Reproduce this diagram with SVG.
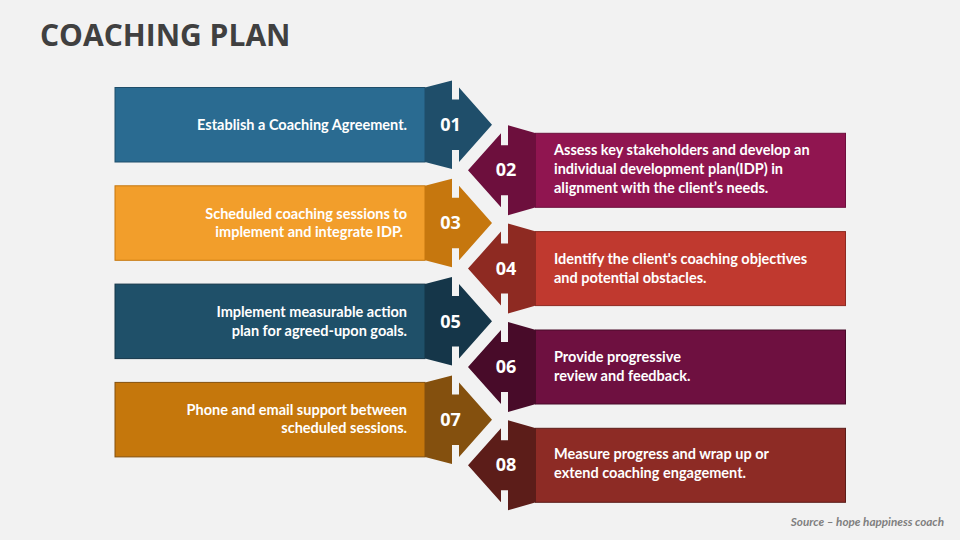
<svg xmlns="http://www.w3.org/2000/svg" width="960" height="540" viewBox="0 0 960 540">
<style>
.bg{fill:#F2F2F2}
.title{font-family:"Open Sans","Liberation Sans",sans-serif;font-weight:700;font-size:30px;fill:#404040}
.txt{font-family:Lato,"Liberation Sans",sans-serif;font-weight:700;font-size:14.5px;fill:#FFFFFF}
.l{text-anchor:end}
.num{font-family:"Open Sans","Liberation Sans",sans-serif;font-weight:700;font-size:18px;fill:#FFFFFF;text-anchor:middle}
.src{font-family:Lato,"Liberation Sans",sans-serif;font-weight:700;font-style:italic;font-size:11.7px;fill:#7F7F7F;text-anchor:end}
</style>
<rect class="bg" width="960" height="540"/>
<text class="title" x="40" y="46">COACHING PLAN</text>
<g id="connectors"/>
<g id="step01">
<rect x="115" y="87.5" width="310" height="74.5" fill="#2A6B91" stroke="#1F4E6A" stroke-width="1"/>
<polygon points="425,87.5 452,80.5 452,99.5 459,99.5 459,87.5 492,124.75 459,162 459,150 452,150 452,169 425,162" fill="#1F4E6A"/>
<text class="txt l" x="407" y="129.5">Establish a Coaching Agreement.</text>
<text class="num" x="450.5" y="131">01</text>
</g>
<g id="step02">
<rect x="535.5" y="133.3" width="310" height="74" fill="#901550" stroke="#6D0F3D" stroke-width="1"/>
<polygon points="536,133.3 508,125.3 508,145.3 501,145.3 501,133.3 468,170.3 501,207.3 501,195.3 508,195.3 508,215.3 536,207.3" fill="#6D0F3D"/>
<text class="txt" x="554" y="155">Assess key stakeholders and develop an</text>
<text class="txt" x="554" y="174.3">individual development plan(IDP) in</text>
<text class="txt" x="554" y="193.3">alignment with the client’s needs.</text>
<text class="num" x="506" y="176.3">02</text>
</g>
<g id="step03">
<rect x="115" y="185.8" width="310" height="74.5" fill="#F29E2B" stroke="#C6770E" stroke-width="1"/>
<polygon points="425,185.8 452,178.8 452,197.8 459,197.8 459,185.8 492,223.05 459,260.3 459,248.3 452,248.3 452,267.3 425,260.3" fill="#C6770E"/>
<text class="txt l" x="407" y="219">Scheduled coaching sessions to</text>
<text class="txt l" x="403" y="237.3">implement and integrate IDP.</text>
<text class="num" x="450.5" y="229.3">03</text>
</g>
<g id="step04">
<rect x="535.5" y="231.6" width="310" height="74" fill="#C0392F" stroke="#8E2A22" stroke-width="1"/>
<polygon points="536,231.6 508,223.6 508,243.6 501,243.6 501,231.6 468,268.6 501,305.6 501,293.6 508,293.6 508,313.6 536,305.6" fill="#8E2A22"/>
<text class="txt" x="554" y="263.6">Identify the client's coaching objectives</text>
<text class="txt" x="554" y="282.6">and potential obstacles.</text>
<text class="num" x="506" y="274.6">04</text>
</g>
<g id="step05">
<rect x="115" y="284.1" width="310" height="74.5" fill="#1F5069" stroke="#153649" stroke-width="1"/>
<polygon points="425,284.1 452,277.1 452,296.1 459,296.1 459,284.1 492,321.35 459,358.6 459,346.6 452,346.6 452,365.6 425,358.6" fill="#153649"/>
<text class="txt l" x="407" y="317.3">Implement measurable action</text>
<text class="txt l" x="407" y="335.6">plan for agreed-upon goals.</text>
<text class="num" x="450.5" y="327.6">05</text>
</g>
<g id="step06">
<rect x="535.5" y="330" width="310" height="74" fill="#6E1040" stroke="#480B29" stroke-width="1"/>
<polygon points="536,330 508,322 508,342 501,342 501,330 468,367 501,404 501,392 508,392 508,412 536,404" fill="#480B29"/>
<text class="txt" x="554" y="362">Provide progressive</text>
<text class="txt" x="554" y="381">review and feedback.</text>
<text class="num" x="506" y="373">06</text>
</g>
<g id="step07">
<rect x="115" y="382.4" width="310" height="74.5" fill="#C5770C" stroke="#84500E" stroke-width="1"/>
<polygon points="425,382.4 452,375.4 452,394.4 459,394.4 459,382.4 492,419.65 459,456.9 459,444.9 452,444.9 452,463.9 425,456.9" fill="#84500E"/>
<text class="txt l" x="407" y="414.5">Phone and email support between</text>
<text class="txt l" x="407" y="433.3">scheduled sessions.</text>
<text class="num" x="450.5" y="425.9">07</text>
</g>
<g id="step08">
<rect x="535.5" y="428.3" width="310" height="74" fill="#8D2B25" stroke="#5C1D19" stroke-width="1"/>
<polygon points="536,428.3 508,420.3 508,440.3 501,440.3 501,428.3 468,465.3 501,502.3 501,490.3 508,490.3 508,510.3 536,502.3" fill="#5C1D19"/>
<text class="txt" x="554" y="459">Measure progress and wrap up or</text>
<text class="txt" x="554" y="477.7">extend coaching engagement.</text>
<text class="num" x="506" y="471.3">08</text>
</g>
<text class="src" x="944" y="526">Source – hope happiness coach</text>
</svg>
